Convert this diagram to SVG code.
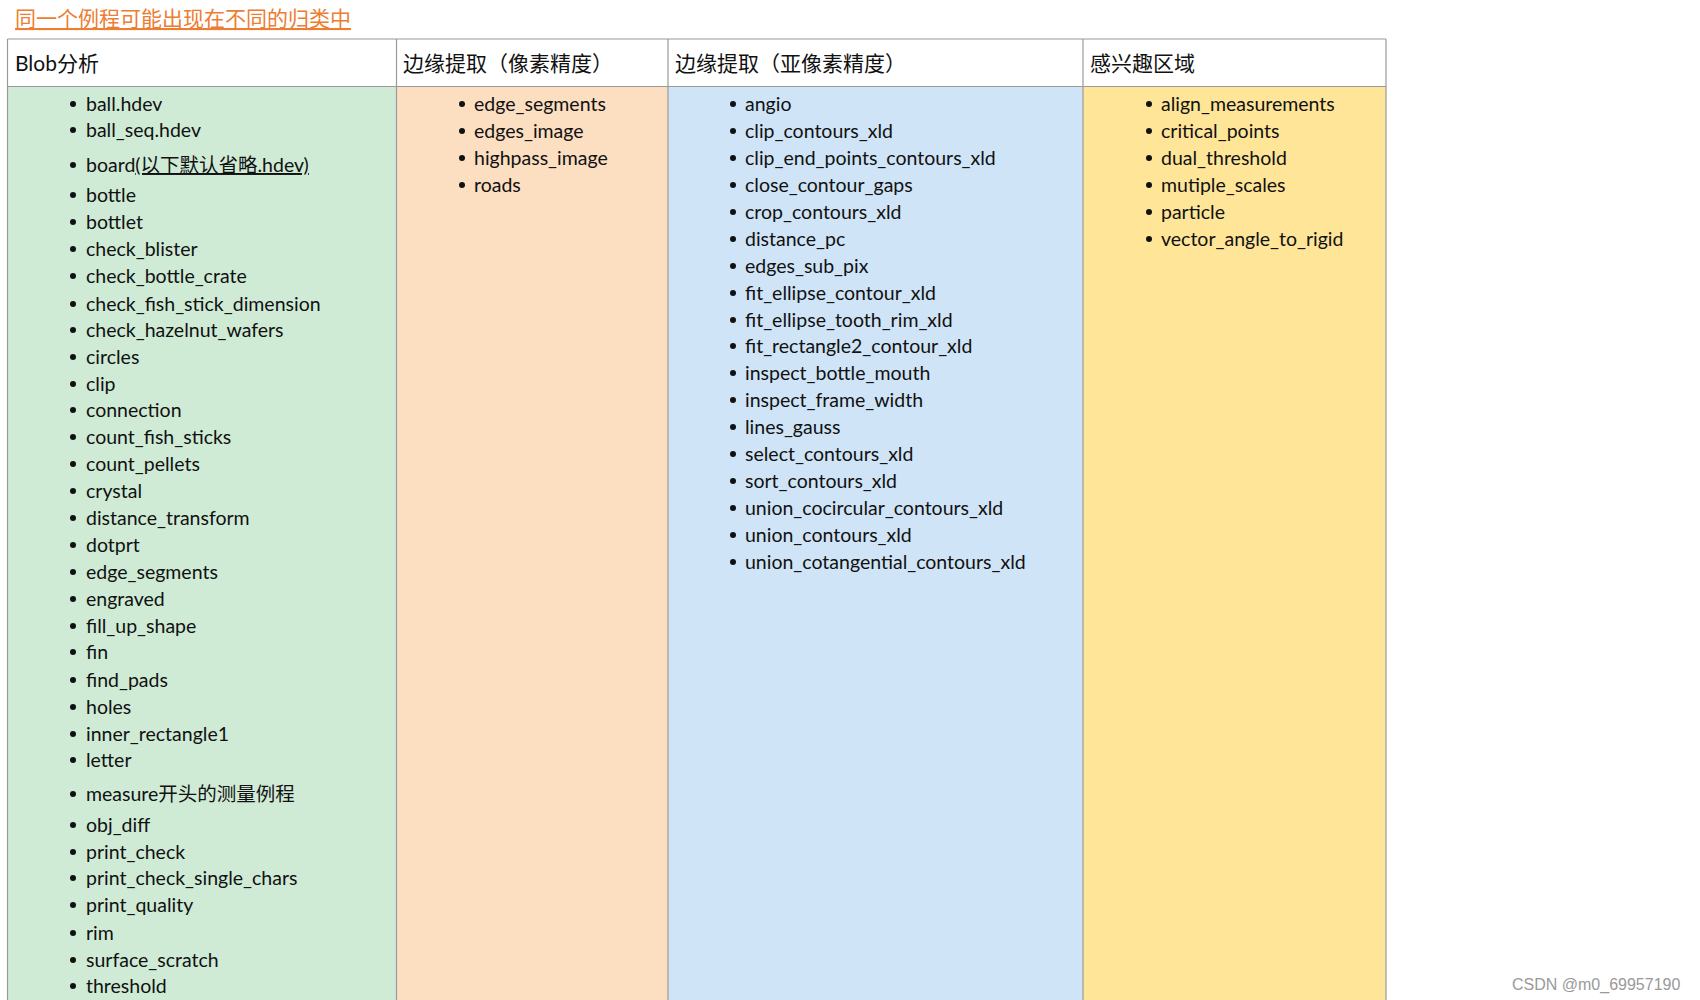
<svg xmlns="http://www.w3.org/2000/svg" width="1700" height="1000" viewBox="0 0 1700 1000">
<style>
.t{font-family:Lato,"Noto Sans CJK SC",sans-serif;font-size:19.5px;fill:#111}
.h{font-family:Lato,"Noto Sans CJK SC",sans-serif;font-size:21px;fill:#111}
.b{fill:#111}
</style>
<rect width="1700" height="1000" fill="#fff"/>
<text x="15" y="26" font-family="'Noto Sans CJK SC',sans-serif" font-size="21" fill="#ED7D31" text-decoration="underline">同一个例程可能出现在不同的归类中</text>
<g id="table">
<rect x="7.5" y="87" width="389" height="913" fill="#CFEBD6"/>
<rect x="396.5" y="87" width="271.5" height="913" fill="#FCDEC1"/>
<rect x="668" y="87" width="415" height="913" fill="#CFE4F7"/>
<rect x="1083" y="87" width="303" height="913" fill="#FFE598"/>
<g stroke="#9a9a9a" stroke-width="1.2" fill="none">
<line x1="7.5" y1="39" x2="1386" y2="39"/>
<line x1="7.5" y1="86.5" x2="1386" y2="86.5"/>
<line x1="7.5" y1="39" x2="7.5" y2="1000"/>
<line x1="396.5" y1="39" x2="396.5" y2="1000"/>
<line x1="668" y1="39" x2="668" y2="1000"/>
<line x1="1083" y1="39" x2="1083" y2="1000"/>
<line x1="1386" y1="39" x2="1386" y2="1000"/>
</g>
<text class="h" x="15" y="71">Blob分析</text>
<text class="h" x="403" y="71">边缘提取（像素精度）</text>
<text class="h" x="675" y="71">边缘提取（亚像素精度）</text>
<text class="h" x="1090" y="71">感兴趣区域</text>
</g>
<g id="col1">
<g class="b">
<circle cx="73" cy="104" r="3"/><circle cx="73" cy="130" r="3"/><circle cx="73" cy="165" r="3"/><circle cx="73" cy="195" r="3"/><circle cx="73" cy="222" r="3"/><circle cx="73" cy="249" r="3"/><circle cx="73" cy="276" r="3"/><circle cx="73" cy="304" r="3"/><circle cx="73" cy="330" r="3"/><circle cx="73" cy="357" r="3"/><circle cx="73" cy="384" r="3"/><circle cx="73" cy="410" r="3"/><circle cx="73" cy="437" r="3"/><circle cx="73" cy="464" r="3"/><circle cx="73" cy="491" r="3"/><circle cx="73" cy="518" r="3"/><circle cx="73" cy="545" r="3"/><circle cx="73" cy="572" r="3"/><circle cx="73" cy="599" r="3"/><circle cx="73" cy="626" r="3"/><circle cx="73" cy="652" r="3"/><circle cx="73" cy="680" r="3"/><circle cx="73" cy="707" r="3"/><circle cx="73" cy="734" r="3"/><circle cx="73" cy="760" r="3"/><circle cx="73" cy="794" r="3"/><circle cx="73" cy="825" r="3"/><circle cx="73" cy="852" r="3"/><circle cx="73" cy="878" r="3"/><circle cx="73" cy="905" r="3"/><circle cx="73" cy="933" r="3"/><circle cx="73" cy="960" r="3"/><circle cx="73" cy="986" r="3"/>
</g>
<text class="t" x="86" y="111">ball.hdev</text>
<text class="t" x="86" y="137">ball_seq.hdev</text>
<text class="t" x="86" y="172">board<tspan text-decoration="underline">(以下默认省略.hdev)</tspan></text>
<text class="t" x="86" y="202">bottle</text>
<text class="t" x="86" y="229">bottlet</text>
<text class="t" x="86" y="256">check_blister</text>
<text class="t" x="86" y="283">check_bottle_crate</text>
<text class="t" x="86" y="311">check_fish_stick_dimension</text>
<text class="t" x="86" y="337">check_hazelnut_wafers</text>
<text class="t" x="86" y="364">circles</text>
<text class="t" x="86" y="391">clip</text>
<text class="t" x="86" y="417">connection</text>
<text class="t" x="86" y="444">count_fish_sticks</text>
<text class="t" x="86" y="471">count_pellets</text>
<text class="t" x="86" y="498">crystal</text>
<text class="t" x="86" y="525">distance_transform</text>
<text class="t" x="86" y="552">dotprt</text>
<text class="t" x="86" y="579">edge_segments</text>
<text class="t" x="86" y="606">engraved</text>
<text class="t" x="86" y="633">fill_up_shape</text>
<text class="t" x="86" y="659">fin</text>
<text class="t" x="86" y="687">find_pads</text>
<text class="t" x="86" y="714">holes</text>
<text class="t" x="86" y="741">inner_rectangle1</text>
<text class="t" x="86" y="767">letter</text>
<text class="t" x="86" y="801">measure开头的测量例程</text>
<text class="t" x="86" y="832">obj_diff</text>
<text class="t" x="86" y="859">print_check</text>
<text class="t" x="86" y="885">print_check_single_chars</text>
<text class="t" x="86" y="912">print_quality</text>
<text class="t" x="86" y="940">rim</text>
<text class="t" x="86" y="967">surface_scratch</text>
<text class="t" x="86" y="993">threshold</text>
</g>
<g id="col2">
<g class="b"><circle cx="462" cy="104" r="3"/><circle cx="462" cy="131" r="3"/><circle cx="462" cy="158" r="3"/><circle cx="462" cy="185" r="3"/></g>
<text class="t" x="474" y="111">edge_segments</text>
<text class="t" x="474" y="138">edges_image</text>
<text class="t" x="474" y="165">highpass_image</text>
<text class="t" x="474" y="192">roads</text>
</g>
<g id="col3">
<g class="b">
<circle cx="733" cy="104" r="3"/><circle cx="733" cy="131" r="3"/><circle cx="733" cy="158" r="3"/><circle cx="733" cy="185" r="3"/><circle cx="733" cy="212" r="3"/><circle cx="733" cy="239" r="3"/><circle cx="733" cy="266" r="3"/><circle cx="733" cy="293" r="3"/><circle cx="733" cy="320" r="3"/><circle cx="733" cy="346" r="3"/><circle cx="733" cy="373" r="3"/><circle cx="733" cy="400" r="3"/><circle cx="733" cy="427" r="3"/><circle cx="733" cy="454" r="3"/><circle cx="733" cy="481" r="3"/><circle cx="733" cy="508" r="3"/><circle cx="733" cy="535" r="3"/><circle cx="733" cy="562" r="3"/>
</g>
<text class="t" x="745" y="111">angio</text>
<text class="t" x="745" y="138">clip_contours_xld</text>
<text class="t" x="745" y="165">clip_end_points_contours_xld</text>
<text class="t" x="745" y="192">close_contour_gaps</text>
<text class="t" x="745" y="219">crop_contours_xld</text>
<text class="t" x="745" y="246">distance_pc</text>
<text class="t" x="745" y="273">edges_sub_pix</text>
<text class="t" x="745" y="300">fit_ellipse_contour_xld</text>
<text class="t" x="745" y="327">fit_ellipse_tooth_rim_xld</text>
<text class="t" x="745" y="353">fit_rectangle2_contour_xld</text>
<text class="t" x="745" y="380">inspect_bottle_mouth</text>
<text class="t" x="745" y="407">inspect_frame_width</text>
<text class="t" x="745" y="434">lines_gauss</text>
<text class="t" x="745" y="461">select_contours_xld</text>
<text class="t" x="745" y="488">sort_contours_xld</text>
<text class="t" x="745" y="515">union_cocircular_contours_xld</text>
<text class="t" x="745" y="542">union_contours_xld</text>
<text class="t" x="745" y="569">union_cotangential_contours_xld</text>
</g>
<g id="col4">
<g class="b"><circle cx="1149" cy="104" r="3"/><circle cx="1149" cy="131" r="3"/><circle cx="1149" cy="158" r="3"/><circle cx="1149" cy="185" r="3"/><circle cx="1149" cy="212" r="3"/><circle cx="1149" cy="239" r="3"/></g>
<text class="t" x="1161" y="111">align_measurements</text>
<text class="t" x="1161" y="138">critical_points</text>
<text class="t" x="1161" y="165">dual_threshold</text>
<text class="t" x="1161" y="192">mutiple_scales</text>
<text class="t" x="1161" y="219">particle</text>
<text class="t" x="1161" y="246">vector_angle_to_rigid</text>
</g>
<text x="1512" y="990" font-family="'Liberation Sans',sans-serif" font-size="16" fill="#999">CSDN @m0_69957190</text>
</svg>
